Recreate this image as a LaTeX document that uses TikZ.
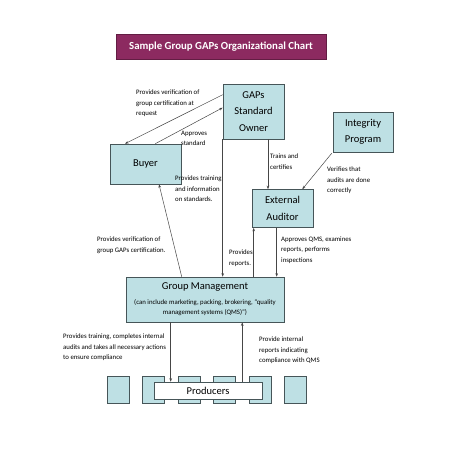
\documentclass[tikz,border=0pt]{standalone}
\usepackage{fontspec}
\setmainfont{Carlito}
\usetikzlibrary{calc,arrows.meta}
\definecolor{boxfill}{RGB}{190,224,228}
\definecolor{boxline}{RGB}{70,85,88}
\definecolor{titlefill}{RGB}{140,42,96}
\definecolor{wire}{RGB}{70,70,70}
\begin{document}
\begin{tikzpicture}[x=1pt,y=-1pt,
    box/.style={draw=boxline,fill=boxfill,line width=0.6pt,inner sep=0pt,
      align=center,font=\fontsize{10.5}{16.5}\selectfont},
    pbox/.style={draw=boxline,fill=boxfill,line width=0.5pt,minimum width=22,minimum height=27},
    lab/.style={anchor=north west,inner sep=0pt,align=left,
      font=\fontsize{6.8}{10.6}\selectfont},
    arr/.style={-{Stealth[length=3.5pt,width=2.6pt]},draw=wire,line width=0.5pt}]
  \useasboundingbox (0,0) rectangle (452,452);
  \node[fill=titlefill,draw=titlefill!70!black,minimum width=210,minimum height=25,
    text=white,font=\fontsize{10.8}{13}\selectfont\bfseries] (title) at (221,46.5)
    {Sample Group GAPs Organizational Chart};
  \node[box,minimum width=61,minimum height=55] (gaps) at (253.5,111.5) {GAPs\\Standard\\Owner};
  \node[box,minimum width=71,minimum height=40] (buyer) at (145.5,164) {Buyer};
  \node[box,minimum width=60,minimum height=40] (integ) at (363,132) {Integrity\\Program};
  \node[box,minimum width=61,minimum height=38] (ea) at (282.5,208.5) {External\\Auditor};
  \node[box,minimum width=158,minimum height=45,font=\fontsize{6.8}{10}\selectfont] (gm) at (205,299.5)
    {\fontsize{10.5}{10}\selectfont Group Management\\[5pt]
     (can include marketing, packing, brokering, “quality\\
     management systems (QMS)”)};
  \foreach \i in {0,...,5}
    \node[pbox] (p\i) at (118+35.5*\i,389.5) {};
  \node[draw=boxline,fill=white,line width=0.5pt,minimum width=108,minimum height=17,
    inner sep=0pt,font=\fontsize{10.5}{12}\selectfont] (prod) at (208,390.5) {Producers};
  % labels
  \node[lab] (lverif) at (136,89.5) {Provides verification of\\group certification at\\request};
  \node[lab] (lappr) at (181,130.5) {Approves\\standard};
  \node[lab] (ltrain) at (270,153.5) {Trains and\\certifies};
  \node[lab] (lcheck) at (327,166.5) {Verifies that\\audits are done\\correctly};
  \node[lab] (linfo) at (175,175.5) {Provides training\\and information\\on standards.};
  \node[lab] (lgroup) at (97,236.5) {Provides verification of\\group GAPs certification.};
  \node[lab] (lrep) at (229,249.5) {Provides\\reports.};
  \node[lab] (lqms) at (281,236.5) {Approves QMS, examines\\reports, performs\\inspections};
  \node[lab] (lcompl) at (63,333.5) {Provides training, completes internal\\audits and takes all necessary actions\\to ensure compliance};
  \node[lab] (lint) at (259,336.5) {Provide internal\\reports indicating\\compliance with QMS};
  % connectors
  \coordinate (gaps-s) at ($(gaps.south)+(14.5,0)$);
  \coordinate (ea-l) at ($(ea.south west)+(2,0)$);
  \coordinate (ea-r) at ($(ea.south west)+(25,0)$);
  \coordinate (gm-l) at ($(gm.south west)+(45,0)$);
  \coordinate (prod-r) at ($(prod.north east)+(-20,0)$);
  \begin{scope}[arr]
    \draw ($(gaps.north west)+(0,11)$) to ($(buyer.north)+(-20.5,0)$);
    \draw ($(buyer.north east)+(-26,0)$) to ($(gaps.north west)+(0,24)$);
    \draw (gaps.south west) to (gaps.south west |- gm.north);
    \draw (gaps-s) to (gaps-s |- ea.north);
    \draw ($(integ.south west)+(-1,1)$) to ($(ea.north east)+(-11,0)$);
    \draw ($(gm.north west)+(56,0)$) to ($(buyer.south)+(13.5,0)$);
    \draw (ea-l |- gm.north) to (ea-l);
    \draw (ea-r) to (ea-r |- gm.north);
    \draw (gm-l) to (gm-l |- prod.north);
    \draw (prod-r) to (prod-r |- gm.south);
  \end{scope}
\end{tikzpicture}
\end{document}
